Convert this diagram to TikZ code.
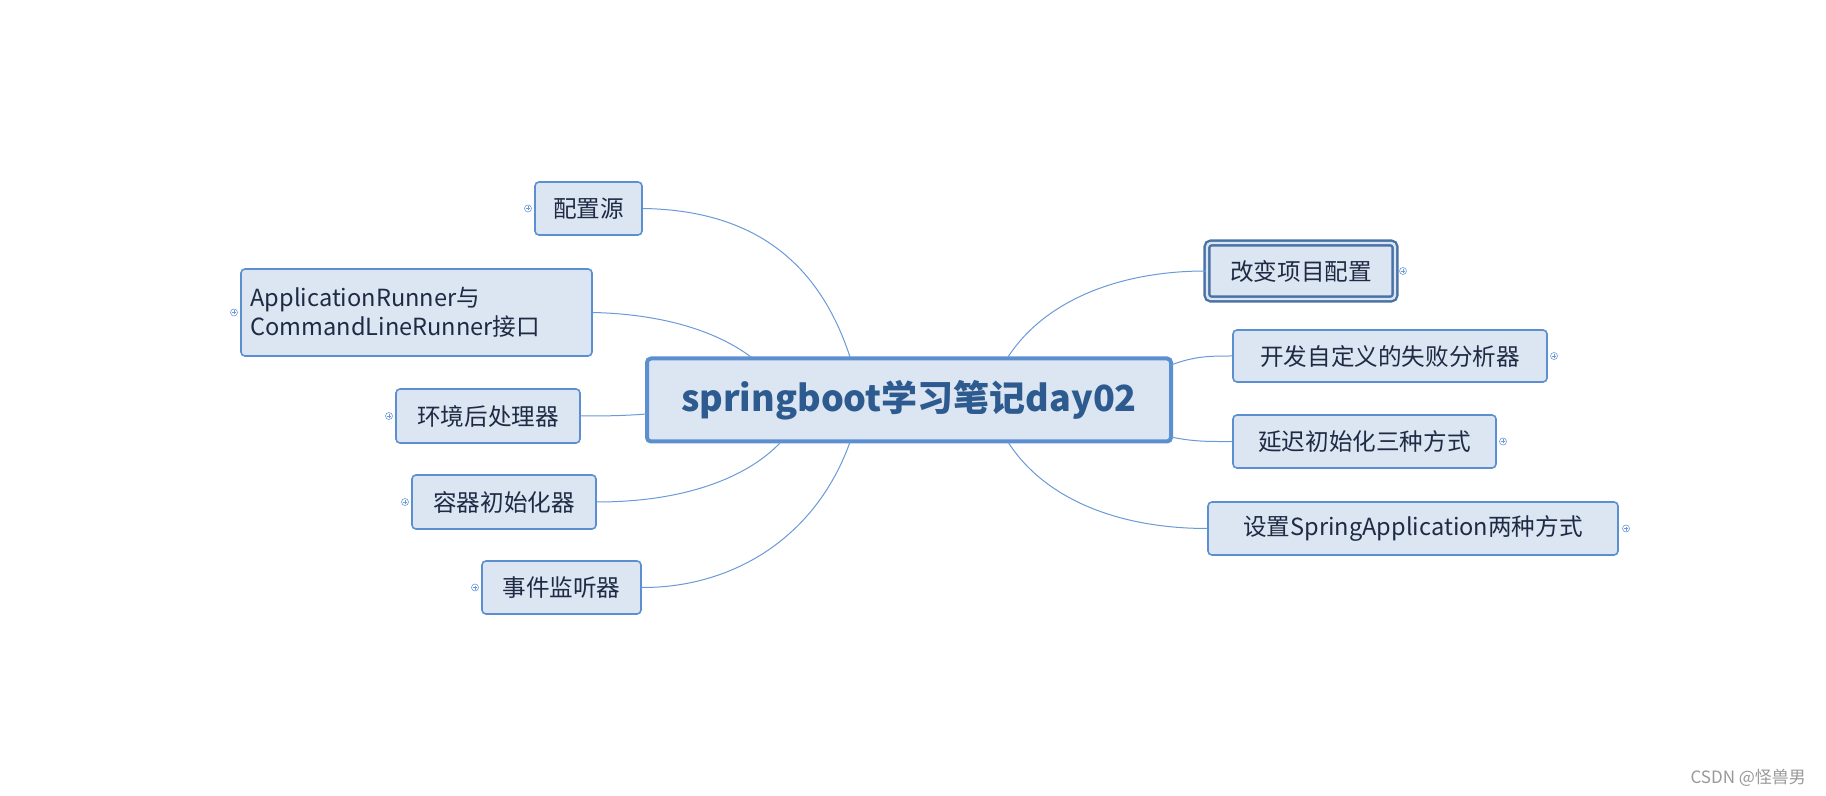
\documentclass[tikz,border=0pt]{standalone}
\usepackage{fontspec}
\setmainfont{Noto Sans CJK SC}
\begin{document}
\begin{tikzpicture}[x=0.5pt,y=-0.5pt,
  box/.style={draw=bdr,fill=boxfill,rounded corners=2pt,line width=0.8pt,inner sep=0pt,text=txt,font=\fontsize{11.8}{14.5}\selectfont,align=left},
  link/.style={draw=lnk,line width=0.5pt},
  pl/.style={draw=lnk,fill=white,circle,inner sep=0pt,minimum size=3.5pt,line width=0.3pt,
     path picture={\draw[line width=0.3pt] ([xshift=-1pt]path picture bounding box.center)--([xshift=1pt]path picture bounding box.center) ([yshift=-1pt]path picture bounding box.center)--([yshift=1pt]path picture bounding box.center);}}]
\definecolor{bdr}{HTML}{5B8FD0}
\definecolor{boxfill}{HTML}{DCE6F2}
\definecolor{txt}{HTML}{1F2A44}
\definecolor{lnk}{HTML}{6A9AD8}
\definecolor{ctr}{HTML}{2E5B8F}
\useasboundingbox (0,0) rectangle (1826,796);
\fill[white] (0,0) rectangle (1826,796);
% center
\node[box,draw=bdr,line width=2pt,minimum width=262pt,minimum height=41.5pt,text=ctr,font=\fontsize{18}{21}\bfseries\selectfont] (c) at (909,400) {springboot学习笔记day02};
% left
\node[box,minimum width=53.5pt,minimum height=26.5pt] (a1) at (588.5,208.5) {配置源};
\node[box,minimum width=175.5pt,minimum height=43.5pt,align=left,text width=166pt] (a2) at (416.5,312.5) {ApplicationRunner与\\CommandLineRunner接口};
\node[box,minimum width=92pt,minimum height=27pt] (a3) at (488,416) {环境后处理器};
\node[box,minimum width=92pt,minimum height=27pt] (a4) at (504,502) {容器初始化器};
\node[box,minimum width=79.5pt,minimum height=26.5pt] (a5) at (561.5,587.5) {事件监听器};
% right
\node[box,draw=bdr!80!black,line width=1.2pt,double=boxfill,double distance=1.2pt,minimum width=94pt,minimum height=28pt] (b1) at (1301,271) {改变项目配置};
\node[box,minimum width=157pt,minimum height=26pt] (b2) at (1390,356) {开发自定义的失败分析器};
\node[box,minimum width=131.5pt,minimum height=26.5pt] (b3) at (1364.5,441.5) {延迟初始化三种方式};
\node[box,minimum width=205pt,minimum height=26.5pt] (b4) at (1413,528.5) {设置SpringApplication两种方式};
% icons
\node[pl] (p1) at (528,208.5) {};
\node[pl] (p2) at (234,312.5) {};
\node[pl] (p3) at (389,416) {};
\node[pl] (p4) at (405,502) {};
\node[pl] (p5) at (475,587.5) {};
\node[pl] (q1) at (1403,271) {};
\node[pl] (q2) at (1554,356) {};
\node[pl] (q3) at (1503,441.5) {};
\node[pl] (q4) at (1626,528.5) {};
% start coordinates
\coordinate (s1) at (850,357);
\coordinate (s2) at (751,357);
\coordinate (s3) at (647,414);
\coordinate (s4) at (781,442);
\coordinate (s5) at (850,442);
\coordinate (t1) at (1008,357);
\coordinate (t2) at (1171,365);
\coordinate (t3) at (1171,437);
\coordinate (t4) at (1008,442);
\draw[link] (s1) .. controls (815,250) and (740,210) .. (a1.east);
\draw[link] (s2) .. controls (715,330) and (660,314) .. (a2.east);
\draw[link] (s3) .. controls (620,416) and (600,416) .. (a3.east);
\draw[link] (s4) .. controls (745,480) and (680,502) .. (a4.east);
\draw[link] (s5) .. controls (815,540) and (730,588) .. (a5.east);
\draw[link] (t1) .. controls (1045,300) and (1120,271) .. (b1.west);
\draw[link] (t2) .. controls (1195,356) and (1210,356) .. (b2.west);
\draw[link] (t3) .. controls (1195,442) and (1210,441.5) .. (b3.west);
\draw[link] (t4) .. controls (1045,500) and (1120,528.5) .. (b4.west);
\node[text=gray!80,font=\fontsize{8.5}{10}\selectfont,anchor=east] (w) at (1813,778) {CSDN @怪兽男};
\end{tikzpicture}
\end{document}
